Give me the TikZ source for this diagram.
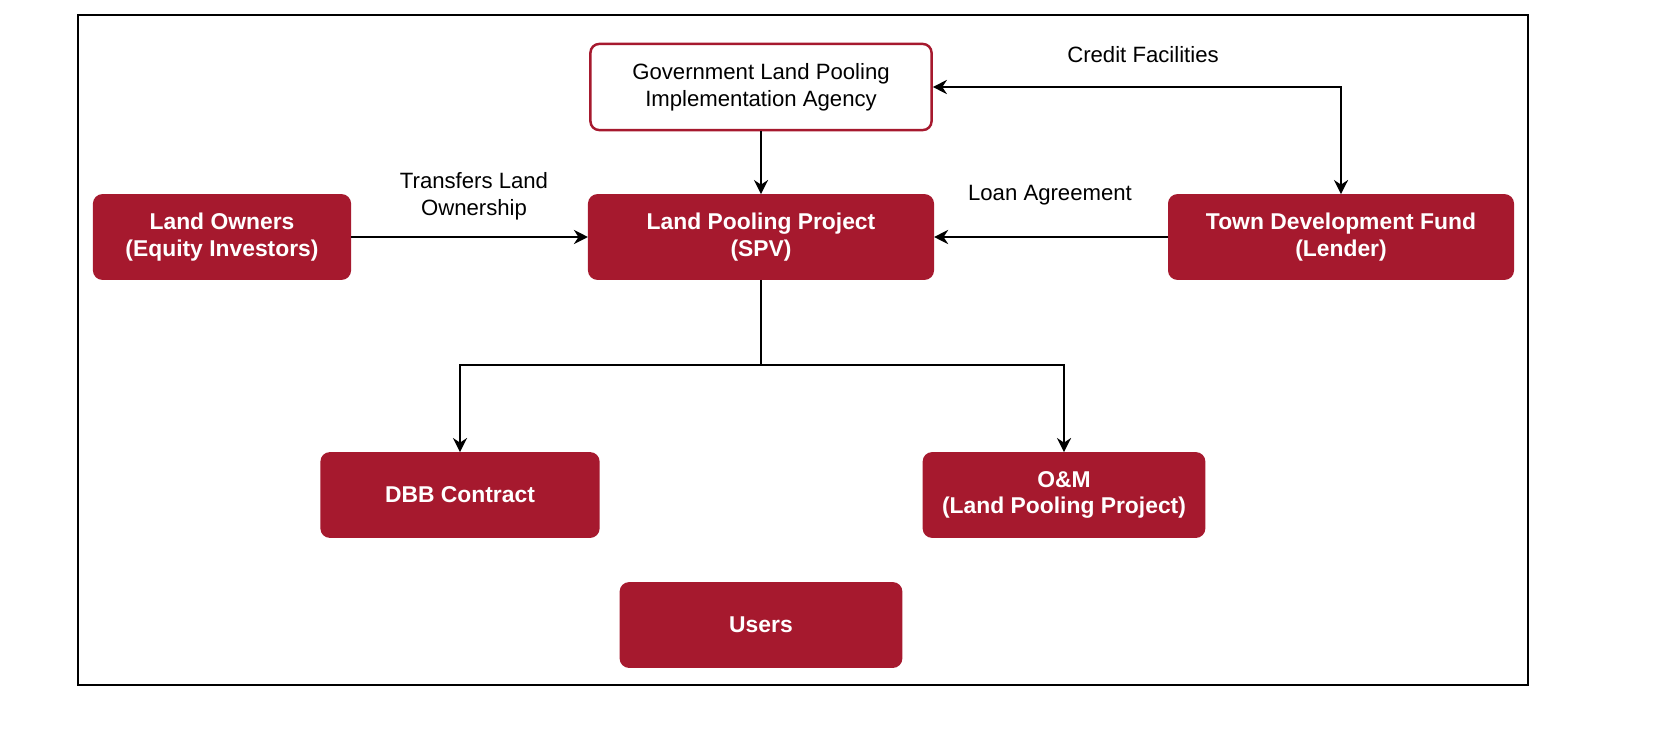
\documentclass[tikz,border=0pt]{standalone}
\usepackage{fontspec}
\setmainfont{Liberation Sans}
\usetikzlibrary{arrows.meta}
\definecolor{boxred}{HTML}{A6192E}
\tikzset{
  box/.style={draw=boxred, fill=boxred, text=white, rounded corners=2.5pt, align=center,
    font=\fontsize{6.5}{7.6}\selectfont\bfseries, inner sep=0pt},
  gov/.style={draw=boxred, fill=white, line width=0.7pt, text=black, rounded corners=2.5pt, align=center,
    font=\fontsize{6.3}{7.6}\selectfont, inner sep=0pt},
  link/.style={-{Stealth[length=4pt,width=4pt]}, line width=0.75pt},
  lbl/.style={font=\fontsize{6.3}{7.6}\selectfont, align=center}
}
\begin{document}
\begin{tikzpicture}[x=0.01cm, y=-0.01cm]
\useasboundingbox (0,0) rectangle (1670,733);
\draw[line width=0.4pt] (78,15) rectangle (1528,685);

% Boxes
\node[gov, minimum width=97pt, minimum height=24.5pt] (gov) at (761,87) {Government Land Pooling\\Implementation Agency};
\node[box, minimum width=73pt, minimum height=24pt] (owners) at (222,237) {Land Owners\\(Equity Investors)};
\node[box, minimum width=98pt, minimum height=24pt] (spv) at (761,237) {Land Pooling Project\\(SPV)};
\node[box, minimum width=98pt, minimum height=24pt] (tdf) at (1341,237) {Town Development Fund\\(Lender)};
\node[box, minimum width=79pt, minimum height=24pt] (dbb) at (460,495) {DBB Contract};
\node[box, minimum width=80pt, minimum height=24pt] (om) at (1064,495) {O\&M\\(Land Pooling Project)};
\node[box, minimum width=80pt, minimum height=24pt] (users) at (761,625) {Users};

% Connectors
\draw[link, {Stealth[length=4pt,width=4pt]}-{Stealth[length=4pt,width=4pt]}] (gov.east) -| (tdf.north);
\draw[link] (gov) -- (spv);
\draw[link] (owners) -- (spv);
\draw[link] (tdf) -- (spv);
\coordinate (split) at (761,365);
\draw[link] (spv.south) -- (split) -| (dbb.north);
\draw[link] (split) -| (om.north);

% Labels
\node[lbl] at (1143,55) {Credit Facilities};
\node[lbl] at (474,196) {Transfers Land\\Ownership};
\node[lbl] at (1050,195) {Loan Agreement};
\end{tikzpicture}
\end{document}
